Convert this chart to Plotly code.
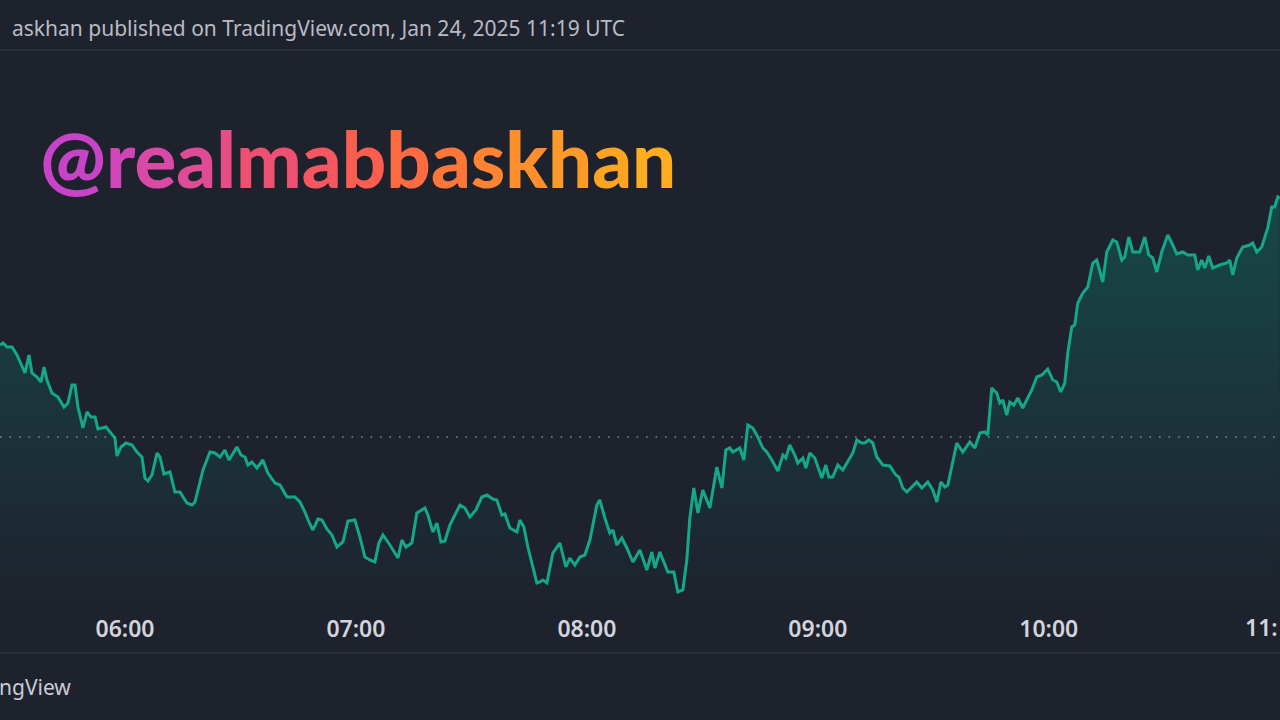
import plotly.graph_objects as go

DAY = "2025-01-24 "

times = [
    "05:27:32", "05:28:19", "05:29:21", "05:30:39", "05:31:57", "05:32:43", "05:34:01", "05:35:04", "05:35:50", "05:37:08",
    "05:38:11", "05:38:58", "05:39:44", "05:41:02", "05:42:35", "05:44:09", "05:45:11", "05:46:14", "05:47:01", "05:47:47",
    "05:49:05", "05:50:08", "05:51:10", "05:52:13", "05:52:59", "05:55:04", "05:56:06", "05:57:24", "05:57:55", "05:58:58",
    "06:00:16", "06:01:49", "06:03:07", "06:04:25", "06:05:11", "06:05:58", "06:07:01", "06:08:19", "06:09:05", "06:10:08",
    "06:11:41", "06:12:59", "06:14:17", "06:16:06", "06:17:24", "06:18:11", "06:20:16", "06:22:05", "06:23:22", "06:24:40",
    "06:25:58", "06:27:01", "06:29:05", "06:30:08", "06:31:10", "06:31:57", "06:32:59", "06:34:17", "06:35:50", "06:37:08",
    "06:38:58", "06:40:16", "06:42:05", "06:44:09", "06:45:27", "06:46:45", "06:47:47", "06:48:50", "06:50:08", "06:51:10",
    "06:52:28", "06:53:46", "06:55:04", "06:56:37", "06:57:55", "06:59:44", "07:01:02", "07:02:20", "07:03:38", "07:04:56",
    "07:05:58", "07:07:01", "07:08:50", "07:10:55", "07:11:57", "07:12:59", "07:14:32", "07:15:50", "07:17:55", "07:18:42",
    "07:20:00", "07:21:02", "07:22:05", "07:23:07", "07:24:25", "07:27:01", "07:28:19", "07:29:37", "07:31:10", "07:32:43",
    "07:34:01", "07:35:35", "07:36:37", "07:37:55", "07:38:42", "07:40:00", "07:41:49", "07:42:35", "07:43:38", "07:44:40",
    "07:47:01", "07:47:47", "07:48:34", "07:49:37", "07:51:10", "07:52:59", "07:54:32", "07:55:35", "07:56:53", "07:58:11",
    "07:59:29", "08:00:47", "08:02:35", "08:03:22", "08:04:40", "08:05:58", "08:06:45", "08:07:47", "08:09:05", "08:10:23",
    "08:11:57", "08:13:46", "08:15:35", "08:16:53", "08:17:40", "08:18:58", "08:21:02", "08:22:35", "08:23:38", "08:24:56",
    "08:25:58", "08:26:45", "08:27:47", "08:28:50", "08:30:08", "08:31:57", "08:33:46", "08:35:04", "08:36:06", "08:37:08",
    "08:37:55", "08:39:44", "08:40:47", "08:41:49", "08:43:07", "08:44:25", "08:45:43", "08:46:45", "08:48:03", "08:49:37",
    "08:50:55", "08:51:41", "08:52:43", "08:54:01", "08:54:48", "08:56:06", "08:56:53", "08:57:55", "08:59:13", "09:01:02",
    "09:02:05", "09:02:51", "09:03:53", "09:05:11", "09:06:29", "09:08:19", "09:09:05", "09:10:08", "09:11:26", "09:12:13",
    "09:13:14", "09:14:17", "09:15:19", "09:16:53", "09:18:42", "09:20:16", "09:21:02", "09:22:05", "09:23:07", "09:24:25",
    "09:25:43", "09:27:01", "09:28:34", "09:29:52", "09:30:55", "09:31:57", "09:32:59", "09:33:46", "09:35:04", "09:36:06",
    "09:37:40", "09:39:29", "09:40:47", "09:42:05", "09:43:22", "09:44:09", "09:45:11", "09:46:29", "09:47:16", "09:48:03",
    "09:49:05", "09:49:52", "09:50:55", "09:51:57", "09:53:14", "09:54:17", "09:55:35", "09:56:53", "09:58:11", "09:59:44",
    "10:01:02", "10:02:05", "10:03:07", "10:04:09", "10:04:56", "10:05:58", "10:06:45", "10:07:32", "10:08:50", "10:10:08",
    "10:11:26", "10:12:28", "10:14:01", "10:15:04", "10:16:37", "10:17:40", "10:18:58", "10:19:44", "10:20:47", "10:21:49",
    "10:23:38", "10:24:56", "10:25:58", "10:27:01", "10:28:03", "10:29:21", "10:30:55", "10:32:13", "10:33:14", "10:34:48",
    "10:36:06", "10:37:55", "10:38:42", "10:39:44", "10:40:31", "10:41:34", "10:42:35", "10:44:25", "10:46:14", "10:47:01",
    "10:47:47", "10:48:50", "10:50:23", "10:52:13", "10:52:59", "10:54:01", "10:55:19", "10:56:53", "10:57:55", "10:58:42",
    "10:59:29", "11:00:00",
]

prices = [
    105920, 105940, 105900, 105900, 105820, 105750, 105640, 105820, 105640, 105600,
    105550, 105700, 105570, 105440, 105400, 105300, 105340, 105520, 105520, 105300,
    105090, 105250, 105200, 105200, 105080, 105100, 105050, 104990, 104810, 104900,
    104940, 104920, 104850, 104800, 104590, 104560, 104620, 104840, 104800, 104630,
    104650, 104450, 104450, 104340, 104320, 104350, 104670, 104850, 104840, 104800,
    104870, 104770, 104900, 104820, 104800, 104720, 104750, 104690, 104770, 104640,
    104540, 104520, 104400, 104400, 104350, 104250, 104150, 104070, 104180, 104170,
    104080, 104020, 103900, 103950, 104160, 104170, 104000, 103800, 103770, 103750,
    103940, 104020, 103920, 103790, 103970, 103900, 103940, 104240, 104290, 104220,
    104050, 104140, 103950, 103960, 104120, 104320, 104290, 104200, 104270, 104400,
    104420, 104380, 104370, 104220, 104230, 104090, 104050, 104170, 104100, 103900,
    103540, 103550, 103570, 103540, 103840, 103940, 103700, 103790, 103720, 103800,
    103820, 103970, 104320, 104370, 104190, 104040, 104070, 103920, 103990, 103890,
    103750, 103870, 103670, 103850, 103690, 103850, 103650, 103650, 103450, 103470,
    103770, 104190, 104490, 104240, 104470, 104290, 104700, 104490, 104870, 104890,
    104850, 104890, 104770, 105120, 105090, 105000, 104890, 104850, 104770, 104660,
    104820, 104790, 104920, 104820, 104740, 104790, 104690, 104840, 104790, 104590,
    104720, 104600, 104600, 104720, 104670, 104800, 104840, 104970, 104940, 104940,
    104970, 104940, 104800, 104720, 104710, 104620, 104600, 104490, 104450, 104500,
    104550, 104490, 104550, 104470, 104350, 104550, 104500, 104520, 104770, 104940,
    104850, 104950, 104890, 105040, 105050, 105020, 105490, 105440, 105340, 105370,
    105220, 105350, 105320, 105390, 105290, 105370, 105470, 105600, 105620, 105680,
    105570, 105550, 105450, 105540, 105840, 106100, 106120, 106340, 106440, 106500,
    106740, 106770, 106550, 106850, 106970, 106950, 106770, 106800, 107000, 106850,
    106850, 107000, 106820, 106790, 106650, 106850, 107020, 106920, 106830, 106850,
    106820, 106820, 106670, 106770, 106690, 106810, 106690, 106720, 106740, 106770,
    106620, 106790, 106900, 106920, 106940, 106850, 106900, 107090, 107300, 107300,
    107400, 107390,
]

prev_close = 105000
tick_times = ["06:00", "07:00", "08:00", "09:00", "10:00"]
tick_labels = ["06:00", "07:00", "08:00", "09:00", "10:00"]
edge_label = "11:"  # the 11:00 label, cut off by the right edge of the chart
x_start, x_end = "05:27:32", "11:00:04"
y_low, y_high = 103270, 108860

header_text = "askhan published on TradingView.com, Jan 24, 2025 11:19 UTC"
footer_text = "ngView"
handle = "@realmabbaskhan"
handle_colors = ["#c843c8", "#d046b8", "#d949a6", "#e04b95", "#e64d86", "#ee5071",
                 "#f5565f", "#fb5e4e", "#fe6a41", "#fe7738", "#fe8332", "#fe8f2c",
                 "#fe9a27", "#fea423", "#fdad1f"]

assert len(times) == len(prices)

BG = "#1e222d"
LINE = "#14a888"
TICK_FONT = dict(family="Noto Sans", size=23, color="#d1d4dc", weight=600)

W, H = 1280, 720
T, B = 51, 610  # plot area top / bottom in pixels


def py(p):
    return (B - p) / (B - T)


fig = go.Figure()
fig.add_trace(go.Scatter(
    x=[DAY + t for t in times],
    y=prices,
    mode="lines",
    line=dict(color=LINE, width=3),
    fill="tozeroy",
    fillgradient=dict(
        type="vertical",
        start=y_low,
        stop=max(prices),
        colorscale=[[0, "rgba(8,153,129,0)"], [1, "rgba(8,153,129,0.32)"]],
    ),
    hoverinfo="skip",
))

fig.add_shape(type="line", xref="paper", yref="y",
              x0=0, x1=1, y0=prev_close, y1=prev_close,
              line=dict(color="rgba(150,154,165,0.85)", width=1.6, dash="1.6px,7.9px"))

for p in (50, 653):
    fig.add_shape(type="line", xref="paper", yref="paper",
                  x0=0, x1=1, y0=py(p), y1=py(p),
                  line=dict(color="#2a2e39", width=2))

watermark = "".join(f'<span style="color:{c}">{ch}</span>' for ch, c in zip(handle, handle_colors))

fig.add_annotation(text=watermark, xref="paper", yref="paper",
                   x=38 / W, y=py(158), xanchor="left", yanchor="middle",
                   showarrow=False,
                   font=dict(family="Lato", size=78, weight=900))
fig.add_annotation(text=header_text, xref="paper", yref="paper",
                   x=627 / W, y=py(28), xanchor="right", yanchor="middle",
                   showarrow=False,
                   font=dict(family="Noto Sans", size=21, color="#b8bbc4"))
fig.add_annotation(text=footer_text, xref="paper", yref="paper",
                   x=73 / W, y=py(687), xanchor="right", yanchor="middle",
                   showarrow=False,
                   font=dict(family="Noto Sans", size=21, color="#c9ccd4"))
fig.add_annotation(text=edge_label, xref="paper", yref="paper",
                   x=1.0, y=py(627), xanchor="right", yanchor="middle",
                   showarrow=False, font=TICK_FONT)

fig.update_layout(
    width=W, height=H, autosize=False,
    margin=dict(l=0, r=0, t=T, b=H - B, pad=0),
    paper_bgcolor=BG, plot_bgcolor=BG,
    showlegend=False,
    hovermode=False,
    xaxis=dict(
        type="date",
        range=[DAY + x_start, DAY + x_end],
        tickvals=[DAY + t for t in tick_times],
        ticktext=tick_labels,
        showgrid=False, zeroline=False, showline=False,
        ticks="", ticklabelstandoff=3,
        tickfont=TICK_FONT,
    ),
    yaxis=dict(
        range=[y_low, y_high],
        showgrid=False, zeroline=False, showline=False,
        showticklabels=False, ticks="",
    ),
)

fig.write_html(
    "out.html",
    config={"displayModeBar": False},
    post_script="document.body.style.margin='0';document.body.style.background='#1e222d';",
)
